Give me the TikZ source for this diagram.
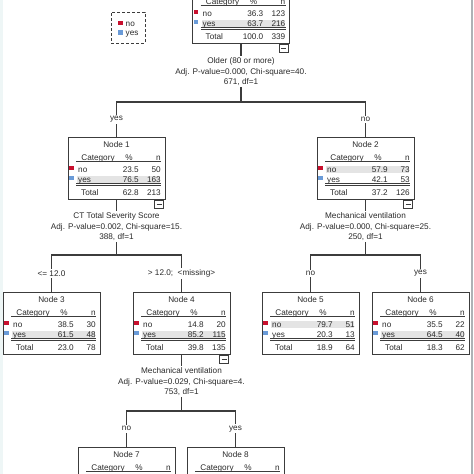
\documentclass[tikz,border=0pt]{standalone}
\usepackage{fontspec}
\setmainfont{Liberation Sans}
\definecolor{catred}{HTML}{C8102E}
\definecolor{catblue}{HTML}{6A9BD8}
\definecolor{rowgray}{HTML}{E4E4E4}
\definecolor{ink}{HTML}{2B2B2B}
\definecolor{boxline}{HTML}{3C3C3C}
\definecolor{edgegray}{HTML}{AEB2B6}
\definecolor{edgetint}{HTML}{EEF6F6}
\tikzset{
  txt/.style={font=\fontsize{8.2}{10.5}\selectfont, text=ink, inner sep=0pt},
  nodebox/.style={draw=boxline, line width=1pt, minimum width=97pt, minimum height=62pt, inner sep=0pt},
  rule/.style={draw=boxline, line width=0.8pt},
  conn/.style={draw=boxline, line width=1.2pt},
  minusbox/.style={draw=boxline, line width=0.8pt, minimum width=9pt, minimum height=8pt, inner sep=0pt},
  splitlbl/.style={txt, align=center, anchor=north, inner sep=1.5pt, fill=white},
  edgelbl/.style={txt, fill=white, inner sep=1.5pt},
  legendbox/.style={draw=boxline, line width=0.9pt, dash pattern=on 3pt off 2pt, minimum width=34pt, minimum height=31pt, inner sep=0pt}
}
% box frame
\newcommand{\TBox}[1]{\node[nodebox] (#1) at (48.5,31) {};}
% title
\newcommand{\TTitle}[2]{\node[txt,anchor=base] (#1-t) at (48.5,10) {#2};}
% header
\newcommand{\THead}[1]{%
  \node[txt,anchor=base] (#1-hc) at (30,23) {Category};
  \node[txt,anchor=base] (#1-hp) at (61,23) {\%};
  \node[txt,anchor=base east] (#1-hn) at (93,23) {n};
  \draw[rule] (8,24.8) -- (93,24.8);}
% rows: name, highlight top, no%, no n, yes%, yes n, total%, total n
\newcommand{\TRows}[8]{%
  \fill[rowgray] (9,#2) rectangle (92,#2+7.5);
  \fill[catred] (1,28.8) rectangle (5.5,33.2);
  \fill[catblue] (1,38.8) rectangle (5.5,43.2);
  \node[txt,anchor=base west] (#1-no) at (10,35) {no};
  \node[txt,anchor=base east] (#1-np) at (71,35) {#3};
  \node[txt,anchor=base east] (#1-nn) at (93,35) {#4};
  \node[txt,anchor=base west] (#1-yes) at (10,45) {yes};
  \node[txt,anchor=base east] (#1-yp) at (71,45) {#5};
  \node[txt,anchor=base east] (#1-yn) at (93,45) {#6};
  \draw[rule] (8,46.7) -- (93,46.7);
  \draw[rule] (8,48.7) -- (93,48.7);
  \node[txt,anchor=base west] (#1-tot) at (13,58) {Total};
  \node[txt,anchor=base east] (#1-tp) at (71,58) {#7};
  \node[txt,anchor=base east] (#1-tn) at (93,58) {#8};}
% collapse marker
\newcommand{\TMinus}[1]{%
  \node[minusbox] (#1-m) at (91,67) {};
  \draw[line width=0.8pt, boxline] (#1-m.center) +(-2.5,0) -- +(2.5,0);}
\begin{document}
\begin{tikzpicture}[x=1pt,y=-1pt]
\useasboundingbox (0,0) rectangle (474,474);
\clip (0,0) rectangle (474,474);
\fill[white] (0,0) rectangle (474,474);
\fill[edgetint] (0,0) rectangle (2.5,474);
\fill[edgegray] (471,0) rectangle (473.3,474);

% legend
\node[legendbox] (lg) at (128,27.5) {};
\fill[catred] (118.3,20.8) rectangle (122.7,25.2);
\node[txt,anchor=base west] (lg-no) at (125.5,26) {no};
\fill[catblue] (118.3,30.3) rectangle (122.7,34.7);
\node[txt,anchor=base west] (lg-yes) at (125.5,35.5) {yes};

% root node
\begin{scope}[shift={(192.5,-19)}]
  \TBox{n0}\THead{n0}\TRows{n0}{38.5}{36.3}{123}{63.7}{216}{100.0}{339}\TMinus{n0}
\end{scope}
% node 1
\begin{scope}[shift={(68,137)}]
  \TBox{n1}\TTitle{n1}{Node 1}\THead{n1}\TRows{n1}{38.5}{23.5}{50}{76.5}{163}{62.8}{213}\TMinus{n1}
\end{scope}
% node 2
\begin{scope}[shift={(317,137)}]
  \TBox{n2}\TTitle{n2}{Node 2}\THead{n2}\TRows{n2}{28.5}{57.9}{73}{42.1}{53}{37.2}{126}\TMinus{n2}
\end{scope}
% node 3
\begin{scope}[shift={(3,292)}]
  \TBox{n3}\TTitle{n3}{Node 3}\THead{n3}\TRows{n3}{38.5}{38.5}{30}{61.5}{48}{23.0}{78}
\end{scope}
% node 4
\begin{scope}[shift={(133,292)}]
  \TBox{n4}\TTitle{n4}{Node 4}\THead{n4}\TRows{n4}{38.5}{14.8}{20}{85.2}{115}{39.8}{135}\TMinus{n4}
\end{scope}
% node 5
\begin{scope}[shift={(262,292)}]
  \TBox{n5}\TTitle{n5}{Node 5}\THead{n5}\TRows{n5}{28.5}{79.7}{51}{20.3}{13}{18.9}{64}
\end{scope}
% node 6
\begin{scope}[shift={(372,292)}]
  \TBox{n6}\TTitle{n6}{Node 6}\THead{n6}\TRows{n6}{38.5}{35.5}{22}{64.5}{40}{18.3}{62}
\end{scope}
% node 7
\begin{scope}[shift={(78,447)}]
  \TBox{n7}\TTitle{n7}{Node 7}\THead{n7}
\end{scope}
% node 8
\begin{scope}[shift={(187,447)}]
  \TBox{n8}\TTitle{n8}{Node 8}\THead{n8}
\end{scope}

% split labels
\node[splitlbl] (s0) at (241,56) {Older (80 or more)\\Adj. P-value=0.000, Chi-square=40.\\671, df=1};
\node[splitlbl] (s1) at (116.5,211) {CT Total Severity Score\\Adj. P-value=0.002, Chi-square=15.\\388, df=1};
\node[splitlbl] (s2) at (365.5,211) {Mechanical ventilation\\Adj. P-value=0.000, Chi-square=25.\\250, df=1};
\node[splitlbl] (s4) at (181.5,366) {Mechanical ventilation\\Adj. P-value=0.029, Chi-square=4.\\753, df=1};

% connectors
\coordinate (b0) at (241,102);
\coordinate (b1) at (116.5,255);
\coordinate (b2) at (365.5,255);
\coordinate (b4) at (181.5,411);

\draw[conn] (n0.south) -- (s0.north);
\draw[conn] (s0.south) -- (b0) -| node[pos=0.75,edgelbl] (e1) {yes} (n1.north);
\draw[conn] (b0) -| node[pos=0.75,edgelbl] (e2) {no} (n2.north);

\draw[conn] (n1.south) -- (s1.north);
\draw[conn] (s1.south) -- (b1) -| node[pos=0.75,edgelbl] (e3) {<= 12.0} (n3.north);
\draw[conn] (b1) -| node[pos=0.75,edgelbl] (e4) {> 12.0;\ \ <missing>} (n4.north);

\draw[conn] (n2.south) -- (s2.north);
\draw[conn] (s2.south) -- (b2) -| node[pos=0.75,edgelbl] (e5) {no} (n5.north);
\draw[conn] (b2) -| node[pos=0.75,edgelbl] (e6) {yes} (n6.north);

\draw[conn] (n4.south) -- (s4.north);
\draw[conn] (s4.south) -- (b4) -| node[pos=0.75,edgelbl] (e7) {no} (n7.north);
\draw[conn] (b4) -| node[pos=0.75,edgelbl] (e8) {yes} (n8.north);
\end{tikzpicture}
\end{document}
